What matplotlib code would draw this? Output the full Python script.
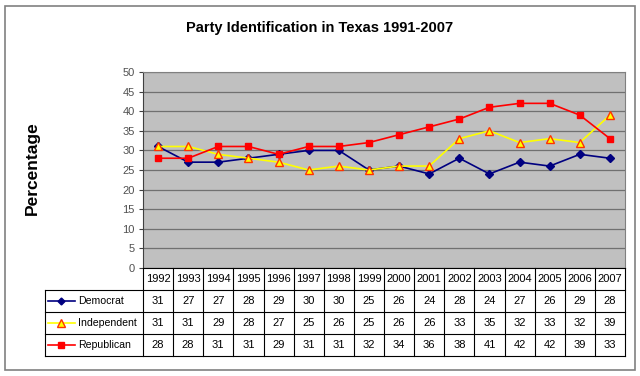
import matplotlib
matplotlib.use("Agg")
import matplotlib.pyplot as plt
from matplotlib.lines import Line2D
from matplotlib.patches import Rectangle

plt.rcParams['font.family'] = ['Liberation Sans', 'DejaVu Sans']

years = ['1992', '1993', '1994', '1995', '1996', '1997', '1998', '1999',
         '2000', '2001', '2002', '2003', '2004', '2005', '2006', '2007']
democrat = [31, 27, 27, 28, 29, 30, 30, 25, 26, 24, 28, 24, 27, 26, 29, 28]
independent = [31, 31, 29, 28, 27, 25, 26, 25, 26, 26, 33, 35, 32, 33, 32, 39]
republican = [28, 28, 31, 31, 29, 31, 31, 32, 34, 36, 38, 41, 42, 42, 39, 33]

series = [
    ('Democrat', democrat, dict(color='#000080', marker='D', markersize=4,
                                markerfacecolor='#000080', markeredgecolor='#000080')),
    ('Independent', independent, dict(color='#FFFF00', marker='^', markersize=6,
                                      markerfacecolor='#FFFF00', markeredgecolor='#FF3300')),
    ('Republican', republican, dict(color='#FF0000', marker='s', markersize=5,
                                    markerfacecolor='#FF0000', markeredgecolor='#FF0000')),
]

fig = plt.figure(figsize=(6.4, 3.76), dpi=100)
fig.patches.append(Rectangle((5 / 640, 6 / 376), 630 / 640, 364 / 376, transform=fig.transFigure,
                             fill=False, edgecolor='#808080', linewidth=1.2))

ax = fig.add_axes([143 / 640, 1 - 268 / 376, 482 / 640, 196 / 376])
ax.set_facecolor('#C0C0C0')
x = list(range(len(years)))
for name, vals, st in series:
    ax.plot(x, vals, linewidth=1.2, **st, zorder=3)

ax.set_xlim(-0.5, len(years) - 0.5)
ax.set_ylim(0, 50)
ax.set_yticks(range(0, 51, 5))
ax.yaxis.grid(True, color='#707070', linewidth=0.9)
ax.set_axisbelow(True)
ax.set_xticks([])
ax.tick_params(axis='y', labelsize=8, labelcolor='#505050', length=3, color='#404040', pad=3)
for s in ['top', 'right']:
    ax.spines[s].set_color('#808080')
ax.spines['left'].set_color('#404040')
ax.spines['bottom'].set_color('#000000')

fig.text(0.5, 1 - 28 / 376, 'Party Identification in Texas 1991-2007', ha='center', va='center',
         fontsize=10.5, fontweight='bold')
fig.text(32 / 640, 1 - 168 / 376, 'Percentage', rotation=90, ha='center', va='center',
         fontsize=12.5, fontweight='bold')

# data table under the plot
n = len(years)
rh = 22 / 196
leg_left = -98 / 482
lc = '#000000'
kw = dict(transform=ax.transAxes, clip_on=False, color=lc, linewidth=0.8)
for i in range(n + 1):
    ax.add_line(Line2D([i / n, i / n], [0, -4 * rh], **kw))
ax.add_line(Line2D([leg_left, leg_left], [-rh, -4 * rh], **kw))
for r in range(1, 5):
    ax.add_line(Line2D([leg_left, 1], [-r * rh, -r * rh], **kw))

for i, yr in enumerate(years):
    ax.text((i + 0.5) / n, -0.5 * rh, yr, transform=ax.transAxes, ha='center', va='center',
            fontsize=8)
for r, (name, vals, st) in enumerate(series, start=1):
    yc = -(r + 0.5) * rh
    for i, v in enumerate(vals):
        ax.text((i + 0.5) / n, yc, str(v), transform=ax.transAxes, ha='center', va='center',
                fontsize=8)
    ax.add_line(Line2D([-95 / 482, -68 / 482], [yc, yc], transform=ax.transAxes, clip_on=False,
                       color=st['color'], linewidth=1.2))
    ax.add_line(Line2D([-82 / 482], [yc], transform=ax.transAxes, clip_on=False, linestyle='none',
                       marker=st['marker'], markersize=st['markersize'] - 0.5,
                       markerfacecolor=st['markerfacecolor'], markeredgecolor=st['markeredgecolor']))
    ax.text(-65 / 482, yc, name, transform=ax.transAxes, ha='left', va='center', fontsize=7.6)

fig.savefig('out.png', dpi=100)
